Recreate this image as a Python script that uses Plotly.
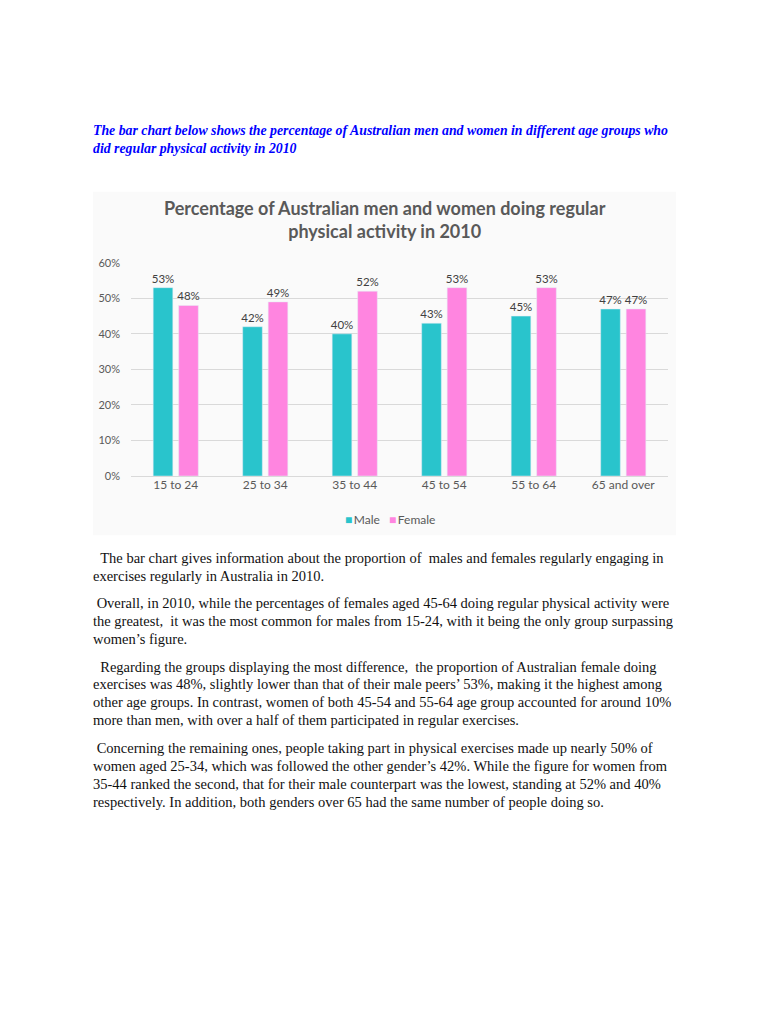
import plotly.graph_objects as go

# the page body has an 8px margin, so the figure is sized to fit inside it
OFF = 8
W, H = 768 - OFF, 1024 - OFF

## Chart data ##
age_groups = ['15 to 24', '25 to 34', '35 to 44', '45 to 54', '55 to 64', '65 and over']
male_pct = [53, 42, 40, 43, 45, 47]
female_pct = [48, 49, 52, 53, 53, 47]
y_ticks = [0, 10, 20, 30, 40, 50, 60]
y_ticktext = [str(v) + '%' for v in y_ticks]
series_names = ['Male', 'Female']
series_colors = ['#29C4CC', '#FF85E0']

## Page text ##
heading_lines = [
    'The bar chart below shows the percentage of Australian men and women in different age groups who',
    'did regular physical activity in 2010',
]
chart_title = 'Percentage of Australian men and women doing regular<br>physical activity in 2010'
body_lines = [
    '&nbsp;&nbsp;The bar chart gives information about the proportion of&nbsp;&nbsp;males and females regularly engaging in',
    'exercises regularly in Australia in 2010.',
    '&nbsp;Overall, in 2010, while the percentages of females aged 45-64 doing regular physical activity were',
    'the greatest,&nbsp;&nbsp;it was the most common for males from 15-24, with it being the only group surpassing',
    'women\u2019s figure.',
    '&nbsp;&nbsp;Regarding the groups displaying the most difference,&nbsp;&nbsp;the proportion of Australian female doing',
    'exercises was 48%, slightly lower than that of their male peers\u2019 53%, making it the highest among',
    'other age groups. In contrast, women of both 45-54 and 55-64 age group accounted for around 10%',
    'more than men, with over a half of them participated in regular exercises.',
    '&nbsp;Concerning the remaining ones, people taking part in physical exercises made up nearly 50% of',
    'women aged 25-34, which was followed the other gender\u2019s 42%. While the figure for women from',
    '35-44 ranked the second, that for their male counterpart was the lowest, standing at 52% and 40%',
    'respectively. In addition, both genders over 65 had the same number of people doing so.',
]
heading_y = [125, 143]
body_y = [558, 576, 604, 622, 640, 668, 686, 704, 722, 751, 769, 787, 805]


def py(p):
    # page pixel row -> paper coordinate
    return 1 - (p - OFF) / H


def px_(p):
    return (p - OFF) / W


label_font = dict(family='Lato, Open Sans, sans-serif', size=11.5, color='#404040')

fig = go.Figure()
for name, vals, col in zip(series_names, [male_pct, female_pct], series_colors):
    fig.add_trace(go.Bar(x=age_groups, y=vals, name=name, marker_color=col,
                         text=vals, texttemplate='%{text}%', textposition='outside',
                         constraintext='none', textfont=label_font, cliponaxis=False))

# light panel behind the embedded chart
fig.add_shape(type='rect', xref='paper', yref='paper', layer='below',
              x0=px_(93), x1=px_(676), y0=py(535), y1=py(187),
              fillcolor='#FAFAFA', line_width=0)

annos = []
for txt, yy in zip(heading_lines, heading_y):
    annos.append(dict(text='<b><i>' + txt + '</i></b>', x=px_(91), y=py(yy), xref='paper', yref='paper',
                      xanchor='left', yanchor='middle', showarrow=False,
                      font=dict(family='Liberation Serif', size=13.8, color='#0000FF')))
annos.append(dict(text='<b>' + chart_title + '</b>', x=px_(385), y=py(215), xref='paper', yref='paper',
                  xanchor='center', yanchor='middle', showarrow=False,
                  font=dict(family='Lato', size=18, color='#595959')))
for txt, yy in zip(body_lines, body_y):
    annos.append(dict(text=txt, x=px_(91), y=py(yy), xref='paper', yref='paper',
                      xanchor='left', yanchor='middle', showarrow=False,
                      font=dict(family='Liberation Serif', size=14.5, color='#111111')))

# compact legend like the original Excel chart
legend_txt = '&nbsp;&nbsp;&nbsp;'.join(
    '<span style="color:%s">\u25A0</span>\u2009%s' % (c, n) for n, c in zip(series_names, series_colors))
annos.append(dict(text=legend_txt, x=px_(390), y=py(519), xref='paper', yref='paper',
                  xanchor='center', yanchor='middle', showarrow=False,
                  font=dict(family='Lato', size=12, color='#595959')))

fig.update_layout(
    width=W, height=H,
    margin=dict(l=0, r=0, t=0, b=0),
    paper_bgcolor='white', plot_bgcolor='rgba(0,0,0,0)',
    barmode='group', bargap=0.43, bargroupgap=0.23,
    showlegend=False,
    xaxis=dict(domain=[px_(131), px_(668)], showline=False, ticks='',
               tickfont=dict(family='Lato', size=12, color='#595959')),
    yaxis=dict(domain=[py(475), py(259)], range=[0, 60], tickvals=y_ticks, ticktext=y_ticktext,
               showgrid=True, gridcolor='#D9D9D9', gridwidth=1, zeroline=True,
               zerolinecolor='#D9D9D9', zerolinewidth=1, ticks='', ticklabelstandoff=10,
               tickfont=dict(family='Lato', size=11, color='#595959')),
    annotations=annos,
)

fig.write_html('out.html')
